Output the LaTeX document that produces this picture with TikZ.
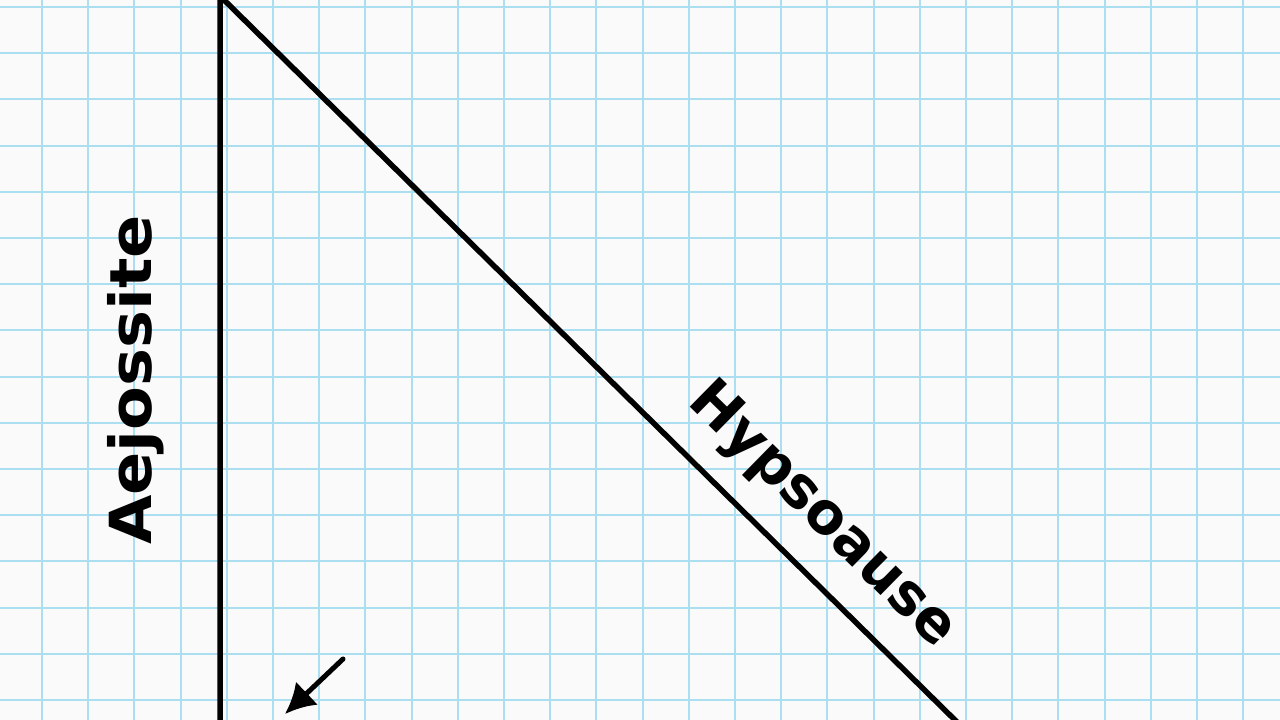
\documentclass[tikz,border=0pt]{standalone}
\usepackage{fontspec}
\setmainfont{DejaVu Sans}
\usetikzlibrary{arrows.meta}
\definecolor{paper}{RGB}{250,250,250}
\definecolor{gridblue}{RGB}{172,222,242}
\tikzset{
  gridline/.style={draw=gridblue, line width=2pt},
  edge/.style={draw=black, line width=5.5pt, line cap=round},
  label/.style={font=\fontsize{58}{62}\selectfont\bfseries, inner sep=0pt},
  pointer/.style={draw=black, line width=5pt, line cap=round, -{Latex[length=30pt,width=32pt]}}
}
\begin{document}
\begin{tikzpicture}[x=1pt,y=1pt]
\useasboundingbox (0,0) rectangle (1280,720);
\fill[paper] (0,0) rectangle (1280,720);
\begin{scope}
\clip (0,0) rectangle (1280,720);
\foreach \i in {0,...,27} {
  \draw[gridline] ({42+46.2*\i},0) -- ({42+46.2*\i},720);
}
\foreach \j in {0,...,15} {
  \draw[gridline] (0,{720-7-46.2*\j}) -- (1280,{720-7-46.2*\j});
}
\end{scope}
\coordinate (apex) at (220,724);
\coordinate (foot) at (220,-4);
\coordinate (hypend) at (959,-4);
\draw[edge] (foot) -- (apex) -- (hypend);
\node[label, rotate=90] (opp) at (136,340) {\resizebox{330pt}{\height}{Aejossite}};
\node[label, rotate=-44.5] (hyp) at (822,204) {\resizebox{350pt}{\height}{Hypsoause}};
\coordinate (arrstart) at (343,61);
\coordinate (arrend) at (285,6);
\draw[pointer] (arrstart) -- (arrend);
\end{tikzpicture}
\end{document}
